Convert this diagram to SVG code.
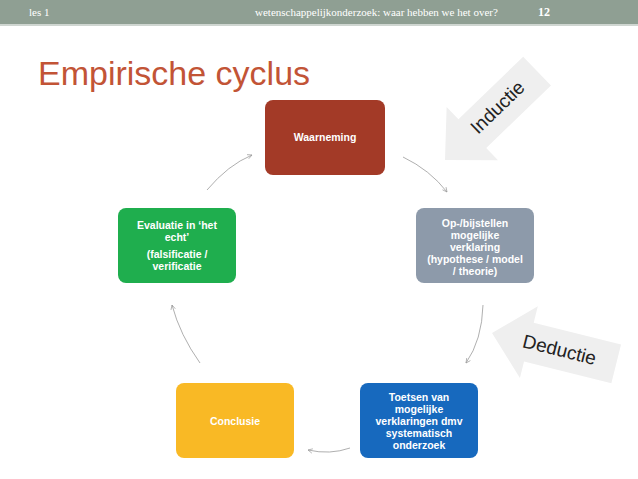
<svg xmlns="http://www.w3.org/2000/svg" width="638" height="479" viewBox="0 0 638 479">
<defs>
<style>
.n{font-family:"Liberation Sans",Arial,sans-serif;font-size:10.5px;font-weight:bold;fill:#fff;text-anchor:middle}
.c{fill:none;stroke:#9a9a9a;stroke-width:0.8}
.big{fill:#efefef}
.bt{font-family:"Liberation Sans",Arial,sans-serif;font-size:19px;fill:#222;text-anchor:middle}
</style>
<marker id="a" viewBox="0 0 10 10" refX="9" refY="5" markerWidth="7" markerHeight="7" orient="auto"><path d="M1,1 L9,5 L1,9" fill="none" stroke="#9a9a9a" stroke-width="1.2"/></marker>
<polygon id="ar" points="0,0 -38,-37 -38,-20 -128,-20 -128,20 -38,20 -38,37"/>
</defs>
<rect width="638" height="479" fill="#fff"/>
<rect width="638" height="24" fill="#8f9f93"/>
<rect y="24" width="638" height="2" fill="#cfd6d1"/>
<g font-family="Liberation Serif,serif" fill="#fff" font-size="11">
<text x="29" y="16">les 1</text>
<text x="255" y="16">wetenschappelijkonderzoek: waar hebben we het over?</text>
<text x="538" y="16" font-weight="bold" font-size="12">12</text>
</g>
<text x="38" y="85" font-family="Liberation Sans,Arial,sans-serif" font-size="34" fill="#c25436">Empirische cyclus</text>
<g id="inductie"><use href="#ar" class="big" transform="translate(445,160) rotate(136)"/>
<text class="bt" transform="translate(502,112) rotate(-44)">Inductie</text></g>
<g id="deductie"><use href="#ar" class="big" transform="translate(492,333) rotate(194)"/>
<text class="bt" transform="translate(558,356) rotate(14)">Deductie</text></g>
<g id="connectors">
<path class="c" marker-end="url(#a)" d="M403,157 Q430,170 447,192"/>
<path class="c" marker-end="url(#a)" d="M483,305 Q482,340 466,363"/>
<path class="c" marker-end="url(#a)" d="M350,448 Q330,455 308,450"/>
<path class="c" marker-end="url(#a)" d="M200,363 Q180,335 172,305"/>
<path class="c" marker-end="url(#a)" d="M207,190 Q228,165 252,155"/>
</g>
<g id="waarneming"><rect x="265" y="100" width="120" height="75" rx="8" fill="#a33a27"/><text class="n" x="325" y="141">Waarneming</text></g>
<g id="op"><rect x="416" y="208" width="118" height="75" rx="8" fill="#8d9aaa"/>
<text class="n" x="475" y="227">Op-/bijstellen</text><text class="n" x="475" y="239">mogelijke</text><text class="n" x="475" y="251">verklaring</text><text class="n" x="475" y="263">(hypothese / model</text><text class="n" x="475" y="275">/ theorie)</text></g>
<g id="toetsen"><rect x="360" y="383" width="118" height="75" rx="8" fill="#1769be"/>
<text class="n" x="419" y="401">Toetsen van</text><text class="n" x="419" y="413">mogelijke</text><text class="n" x="419" y="425">verklaringen dmv</text><text class="n" x="419" y="437">systematisch</text><text class="n" x="419" y="449">onderzoek</text></g>
<g id="conclusie"><rect x="176" y="383" width="118" height="75" rx="8" fill="#f9b925"/><text class="n" x="235" y="425">Conclusie</text></g>
<g id="evaluatie"><rect x="118" y="208" width="118" height="75" rx="8" fill="#1fae4e"/>
<text class="n" x="177" y="229">Evaluatie  in  ‘het</text><text class="n" x="177" y="241">echt’</text><text class="n" x="177" y="258">(falsificatie /</text><text class="n" x="177" y="270">verificatie</text></g>
</svg>
